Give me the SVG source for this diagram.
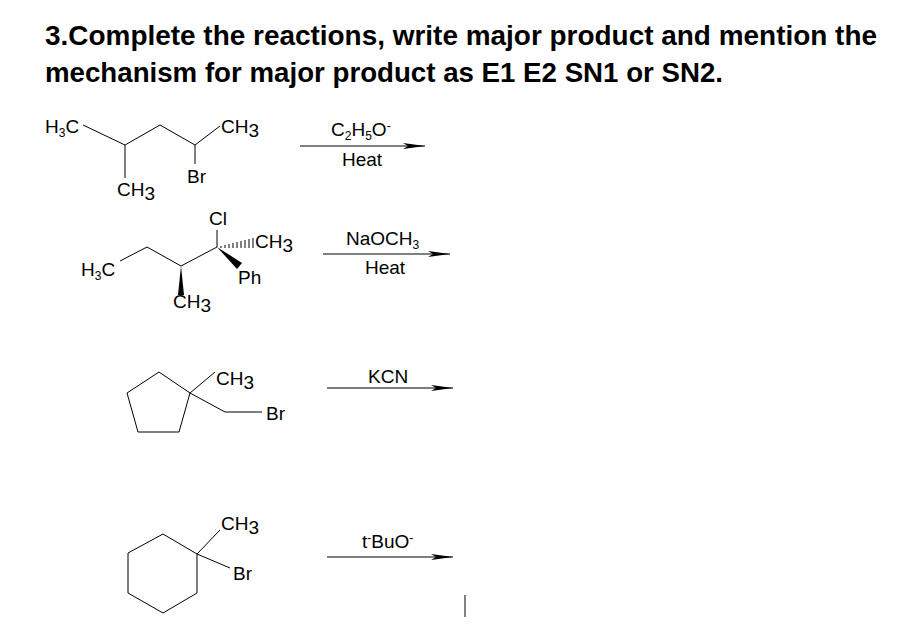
<svg xmlns="http://www.w3.org/2000/svg" width="904" height="624" viewBox="0 0 904 624">
<style>
text{font-family:"Liberation Sans",Arial,sans-serif;fill:#000}
.t{font-size:27px;font-weight:bold}
.l{font-size:19px}
.s{font-size:12px}
.b{stroke:#000;stroke-width:1;fill:none}
.a{stroke:#000;stroke-width:1.2;fill:none}
</style>
<defs><marker id="ah" markerWidth="22" markerHeight="8" refX="22" refY="4" orient="auto" markerUnits="userSpaceOnUse"><path d="M0,1 L22,4 L0,7 L5,4 Z" fill="#000"/></marker></defs>
<rect width="904" height="624" fill="#fff"/>
<g id="title">
<text class="t" x="45" y="45" textLength="832" lengthAdjust="spacingAndGlyphs">3.Complete the reactions, write major product and mention the</text>
<text class="t" x="45" y="82" textLength="678" lengthAdjust="spacingAndGlyphs">mechanism for major product as E1 E2 SN1 or SN2.</text>
</g>
<g id="mol1">
<path class="b" d="M83,125 L125,145 L160,125 L195,145 L220,126 M125,145 V178 M195,145 V164"/>
<text class="l" x="45" y="133">H<tspan class="s" dy="4">3</tspan><tspan dy="-4">C</tspan></text>
<text class="l" x="221" y="133">CH<tspan dy="4">3</tspan></text>
<text class="l" x="117" y="196">CH<tspan dy="4">3</tspan></text>
<text class="l" x="187" y="183">Br</text>
</g>
<g id="mol2">
<path class="b" d="M120,261 L147,247 L181,266 L217,247 M217,247 V230"/>
<path d="M181,266 L178,295 L184,295 Z" fill="#000"/>
<path d="M217,247 L237,269 L242,263 Z" fill="#000"/>
<path class="b" d="M221,246 v2 M225,245 v3 M229,244 v4 M233,243 v5 M237,242 v6 M241,241 v7 M245,240 v8 M249,239 v9 M253,238 v10"/>
<text class="l" x="81" y="276">H<tspan class="s" dy="4">3</tspan><tspan dy="-4">C</tspan></text>
<text class="l" x="209" y="225">Cl</text>
<text class="l" x="255" y="248">CH<tspan dy="4">3</tspan></text>
<text class="l" x="238" y="284">Ph</text>
<text class="l" x="173" y="308">CH<tspan dy="4">3</tspan></text>
</g>
<g id="mol3">
<path class="b" d="M159,372 L127,393 L138,432 L179,432 L190,393 Z M190,393 L215,372 M190,393 L225,412 H262"/>
<text class="l" x="216" y="385">CH<tspan dy="4">3</tspan></text>
<text class="l" x="266" y="420">Br</text>
</g>
<g id="mol4">
<path class="b" d="M163,534 L128,553 L128,593 L163,613 L197,593 L197,554 Z M197,554 L220,530 M197,554 L230,568"/>
<text class="l" x="221" y="530">CH<tspan dy="4">3</tspan></text>
<text class="l" x="233" y="580">Br</text>
</g>
<g id="connectors">
<path class="a" d="M300,146 H425" marker-end="url(#ah)"/>
<path class="a" d="M323,254 H450" marker-end="url(#ah)"/>
<path class="a" d="M327,388 H453" marker-end="url(#ah)"/>
<path class="a" d="M327,557 H453" marker-end="url(#ah)"/>
</g>
<g id="labels">
<text class="l" x="331" y="136">C<tspan class="s" dy="4">2</tspan><tspan dy="-4">H</tspan><tspan class="s" dy="4">5</tspan><tspan dy="-4">O</tspan><tspan class="s" dy="-6">-</tspan></text>
<text class="l" x="342" y="166">Heat</text>
<text class="l" x="346" y="245">NaOCH<tspan class="s" dy="4">3</tspan></text>
<text class="l" x="365" y="274">Heat</text>
<text class="l" x="368" y="383">KCN</text>
<text class="l" x="362" y="548">t<tspan class="s" dy="-6">-</tspan><tspan dy="6">BuO</tspan><tspan class="s" dy="-6">-</tspan></text>
<path class="b" d="M465,595 V617"/>
</g>
</svg>
